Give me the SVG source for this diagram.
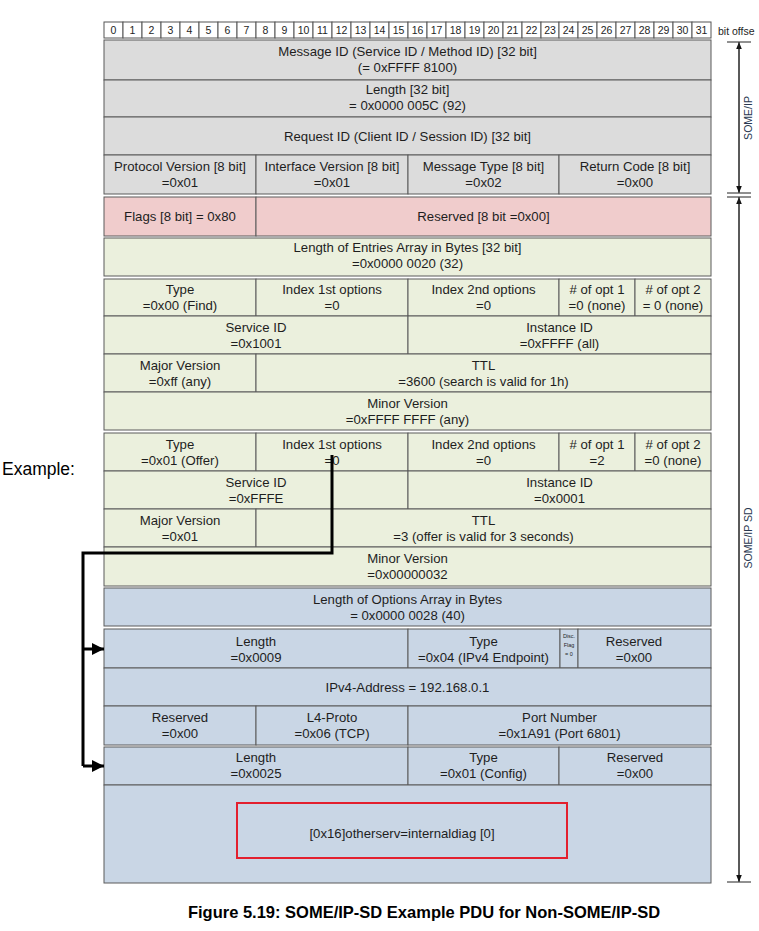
<svg xmlns="http://www.w3.org/2000/svg" width="759" height="931" viewBox="0 0 759 931">
<style>
text{font-family:"Liberation Sans",Arial,sans-serif;font-size:13.2px;fill:#1e1e1e;text-anchor:middle}
.hd rect{fill:#fff;stroke:#555;stroke-width:1}
.hd text{font-size:10.5px}
rect.c{stroke:#5a5a5a;stroke-width:1}
.g{fill:#dcdcdc}
.p{fill:#f0cccc}
.e{fill:#ebf0dd}
.b{fill:#c9d6e5}
.dim{stroke:#222;stroke-width:1;fill:none}
.con{stroke:#000;stroke-width:3;fill:none}
.sm{font-size:5.5px}
</style>
<defs>
<marker id="ah" viewBox="0 0 10 10" refX="10" refY="5" markerWidth="4" markerHeight="4" orient="auto" markerUnits="strokeWidth">
<path d="M0,0 L10,5 L0,10 z" fill="#000"/>
</marker>
<marker id="dh" viewBox="0 0 10 10" refX="10" refY="5" markerWidth="7" markerHeight="7" orient="auto" markerUnits="userSpaceOnUse">
<path d="M0,1 L10,5 L0,9 z" fill="#111"/>
</marker>
</defs>
<rect width="759" height="931" fill="#fff"/>

<g id="bit-header" class="hd">
<rect x="104" y="22" width="19" height="16"/><text x="113.5" y="34">0</text>
<rect x="123" y="22" width="19" height="16"/><text x="132.5" y="34">1</text>
<rect x="142" y="22" width="19" height="16"/><text x="151.5" y="34">2</text>
<rect x="161" y="22" width="19" height="16"/><text x="170.5" y="34">3</text>
<rect x="180" y="22" width="19" height="16"/><text x="189.5" y="34">4</text>
<rect x="199" y="22" width="19" height="16"/><text x="208.5" y="34">5</text>
<rect x="218" y="22" width="19" height="16"/><text x="227.5" y="34">6</text>
<rect x="237" y="22" width="19" height="16"/><text x="246.5" y="34">7</text>
<rect x="256" y="22" width="19" height="16"/><text x="265.5" y="34">8</text>
<rect x="275" y="22" width="19" height="16"/><text x="284.5" y="34">9</text>
<rect x="294" y="22" width="19" height="16"/><text x="303.5" y="34">10</text>
<rect x="313" y="22" width="19" height="16"/><text x="322.5" y="34">11</text>
<rect x="332" y="22" width="19" height="16"/><text x="341.5" y="34">12</text>
<rect x="351" y="22" width="19" height="16"/><text x="360.5" y="34">13</text>
<rect x="370" y="22" width="19" height="16"/><text x="379.5" y="34">14</text>
<rect x="389" y="22" width="19" height="16"/><text x="398.5" y="34">15</text>
<rect x="408" y="22" width="19" height="16"/><text x="417.5" y="34">16</text>
<rect x="427" y="22" width="19" height="16"/><text x="436.5" y="34">17</text>
<rect x="446" y="22" width="19" height="16"/><text x="455.5" y="34">18</text>
<rect x="465" y="22" width="19" height="16"/><text x="474.5" y="34">19</text>
<rect x="484" y="22" width="19" height="16"/><text x="493.5" y="34">20</text>
<rect x="503" y="22" width="19" height="16"/><text x="512.5" y="34">21</text>
<rect x="522" y="22" width="19" height="16"/><text x="531.5" y="34">22</text>
<rect x="541" y="22" width="18" height="16"/><text x="550" y="34">23</text>
<rect x="559" y="22" width="19" height="16"/><text x="568.5" y="34">24</text>
<rect x="578" y="22" width="19" height="16"/><text x="587.5" y="34">25</text>
<rect x="597" y="22" width="19" height="16"/><text x="606.5" y="34">26</text>
<rect x="616" y="22" width="19" height="16"/><text x="625.5" y="34">27</text>
<rect x="635" y="22" width="19" height="16"/><text x="644.5" y="34">28</text>
<rect x="654" y="22" width="19" height="16"/><text x="663.5" y="34">29</text>
<rect x="673" y="22" width="19" height="16"/><text x="682.5" y="34">30</text>
<rect x="692" y="22" width="19" height="16"/><text x="701.5" y="34">31</text>
</g>
<text x="718" y="35" style="font-size:10.5px;text-anchor:start">bit offse</text>

<!-- SOME/IP header -->
<g id="message-id"><rect class="c g" x="104" y="40" width="607" height="40"/><text x="407.5" y="56">Message ID (Service ID / Method ID) [32 bit]</text><text x="407.5" y="72">(= 0xFFFF 8100)</text></g>
<g id="length"><rect class="c g" x="104" y="80" width="607" height="37"/><text x="407.5" y="94">Length [32 bit]</text><text x="407.5" y="110">= 0x0000 005C (92)</text></g>
<g id="request-id"><rect class="c g" x="104" y="117" width="607" height="38"/><text x="407.5" y="141">Request ID (Client ID / Session ID) [32 bit]</text></g>
<g id="protocol-version"><rect class="c g" x="104" y="155" width="152" height="39"/><text x="180" y="171">Protocol Version [8 bit]</text><text x="180" y="187">=0x01</text></g>
<g id="interface-version"><rect class="c g" x="256" y="155" width="152" height="39"/><text x="332" y="171">Interface Version [8 bit]</text><text x="332" y="187">=0x01</text></g>
<g id="message-type"><rect class="c g" x="408" y="155" width="151" height="39"/><text x="483.5" y="171">Message Type [8 bit]</text><text x="483.5" y="187">=0x02</text></g>
<g id="return-code"><rect class="c g" x="559" y="155" width="152" height="39"/><text x="635" y="171">Return Code [8 bit]</text><text x="635" y="187">=0x00</text></g>

<!-- SD header -->
<g id="flags"><rect class="c p" x="104" y="197" width="152" height="39"/><text x="180" y="221">Flags [8 bit] = 0x80</text></g>
<g id="reserved-sd"><rect class="c p" x="256" y="197" width="455" height="39"/><text x="483.5" y="221">Reserved [8 bit =0x00]</text></g>
<g id="entries-length"><rect class="c e" x="104" y="238" width="607" height="38"/><text x="407.5" y="252">Length of Entries Array in Bytes [32 bit]</text><text x="407.5" y="268">=0x0000 0020 (32)</text></g>

<!-- Entry 1 -->
<g id="e1-type"><rect class="c e" x="104" y="279" width="152" height="37"/><text x="180" y="294">Type</text><text x="180" y="310">=0x00 (Find)</text></g>
<g id="e1-index1"><rect class="c e" x="256" y="279" width="152" height="37"/><text x="332" y="294">Index 1st options</text><text x="332" y="310">=0</text></g>
<g id="e1-index2"><rect class="c e" x="408" y="279" width="151" height="37"/><text x="483.5" y="294">Index 2nd options</text><text x="483.5" y="310">=0</text></g>
<g id="e1-opt1"><rect class="c e" x="559" y="279" width="76" height="37"/><text x="597" y="294"># of opt 1</text><text x="597" y="310">=0 (none)</text></g>
<g id="e1-opt2"><rect class="c e" x="635" y="279" width="76" height="37"/><text x="673" y="294"># of opt 2</text><text x="673" y="310">= 0 (none)</text></g>
<g id="e1-service"><rect class="c e" x="104" y="316" width="304" height="38"/><text x="256" y="332">Service ID</text><text x="256" y="348">=0x1001</text></g>
<g id="e1-instance"><rect class="c e" x="408" y="316" width="303" height="38"/><text x="559.5" y="332">Instance ID</text><text x="559.5" y="348">=0xFFFF (all)</text></g>
<g id="e1-major"><rect class="c e" x="104" y="354" width="152" height="38"/><text x="180" y="370">Major Version</text><text x="180" y="386">=0xff (any)</text></g>
<g id="e1-ttl"><rect class="c e" x="256" y="354" width="455" height="38"/><text x="483.5" y="370">TTL</text><text x="483.5" y="386">=3600 (search is valid for 1h)</text></g>
<g id="e1-minor"><rect class="c e" x="104" y="392" width="607" height="38"/><text x="407.5" y="408">Minor Version</text><text x="407.5" y="424">=0xFFFF FFFF (any)</text></g>

<!-- Entry 2 -->
<g id="e2-type"><rect class="c e" x="104" y="433" width="152" height="38"/><text x="180" y="449">Type</text><text x="180" y="465">=0x01 (Offer)</text></g>
<g id="e2-index1"><rect class="c e" x="256" y="433" width="152" height="38"/><text x="332" y="449">Index 1st options</text><text x="332" y="465">=0</text></g>
<g id="e2-index2"><rect class="c e" x="408" y="433" width="151" height="38"/><text x="483.5" y="449">Index 2nd options</text><text x="483.5" y="465">=0</text></g>
<g id="e2-opt1"><rect class="c e" x="559" y="433" width="76" height="38"/><text x="597" y="449"># of opt 1</text><text x="597" y="465">=2</text></g>
<g id="e2-opt2"><rect class="c e" x="635" y="433" width="76" height="38"/><text x="673" y="449"># of opt 2</text><text x="673" y="465">=0 (none)</text></g>
<g id="e2-service"><rect class="c e" x="104" y="471" width="304" height="38"/><text x="256" y="487">Service ID</text><text x="256" y="503">=0xFFFE</text></g>
<g id="e2-instance"><rect class="c e" x="408" y="471" width="303" height="38"/><text x="559.5" y="487">Instance ID</text><text x="559.5" y="503">=0x0001</text></g>
<g id="e2-major"><rect class="c e" x="104" y="509" width="152" height="38"/><text x="180" y="525">Major Version</text><text x="180" y="541">=0x01</text></g>
<g id="e2-ttl"><rect class="c e" x="256" y="509" width="455" height="38"/><text x="483.5" y="525">TTL</text><text x="483.5" y="541">=3 (offer is valid for 3 seconds)</text></g>
<g id="e2-minor"><rect class="c e" x="104" y="547" width="607" height="39"/><text x="407.5" y="563">Minor Version</text><text x="407.5" y="579">=0x00000032</text></g>

<!-- Options -->
<g id="options-length"><rect class="c b" x="104" y="588" width="607" height="38"/><text x="407.5" y="604">Length of Options Array in Bytes</text><text x="407.5" y="620">= 0x0000 0028 (40)</text></g>
<g id="o1-length"><rect class="c b" x="104" y="629" width="304" height="39"/><text x="256" y="646">Length</text><text x="256" y="662">=0x0009</text></g>
<g id="o1-type"><rect class="c b" x="408" y="629" width="152" height="39"/><text x="483.5" y="646">Type</text><text x="483.5" y="662">=0x04 (IPv4 Endpoint)</text></g>
<g id="o1-disc"><rect class="c b" x="560" y="629" width="18" height="39"/><text class="sm" x="569" y="638">Disc.</text><text class="sm" x="569" y="647">Flag</text><text class="sm" x="569" y="656">= 0</text></g>
<g id="o1-reserved"><rect class="c b" x="578" y="629" width="133" height="39"/><text x="634" y="646">Reserved</text><text x="634" y="662">=0x00</text></g>
<g id="o1-ipv4"><rect class="c b" x="104" y="668" width="607" height="38"/><text x="407.5" y="692">IPv4-Address = 192.168.0.1</text></g>
<g id="o1-reserved2"><rect class="c b" x="104" y="706" width="152" height="39"/><text x="180" y="722">Reserved</text><text x="180" y="738">=0x00</text></g>
<g id="o1-l4proto"><rect class="c b" x="256" y="706" width="152" height="39"/><text x="332" y="722">L4-Proto</text><text x="332" y="738">=0x06 (TCP)</text></g>
<g id="o1-port"><rect class="c b" x="408" y="706" width="303" height="39"/><text x="559.5" y="722">Port Number</text><text x="559.5" y="738">=0x1A91 (Port 6801)</text></g>
<g id="o2-length"><rect class="c b" x="104" y="747" width="304" height="38"/><text x="256" y="762">Length</text><text x="256" y="778">=0x0025</text></g>
<g id="o2-type"><rect class="c b" x="408" y="747" width="151" height="38"/><text x="483.5" y="762">Type</text><text x="483.5" y="778">=0x01 (Config)</text></g>
<g id="o2-reserved"><rect class="c b" x="559" y="747" width="152" height="38"/><text x="635" y="762">Reserved</text><text x="635" y="778">=0x00</text></g>
<g id="o2-config"><rect class="c b" x="104" y="785" width="607" height="98"/>
<rect x="237" y="803" width="330" height="55" fill="none" stroke="#e3202e" stroke-width="2"/>
<text x="402" y="838">[0x16]otherserv=internaldiag [0]</text></g>

<!-- dimension lines -->
<g id="dimensions">
<line class="dim" x1="727" y1="42" x2="751" y2="42"/>
<line class="dim" x1="739" y1="192" x2="739" y2="42" marker-end="url(#dh)"/>
<line class="dim" x1="739" y1="44" x2="739" y2="193" marker-end="url(#dh)"/>
<line class="dim" x1="727" y1="193" x2="751" y2="193"/>
<line class="dim" x1="727" y1="197" x2="751" y2="197"/>
<line class="dim" x1="739" y1="881" x2="739" y2="197" marker-end="url(#dh)"/>
<line class="dim" x1="739" y1="199" x2="739" y2="882" marker-end="url(#dh)"/>
<line class="dim" x1="727" y1="882" x2="751" y2="882"/>
<text transform="translate(752,118) rotate(-90)" style="font-size:10.5px;fill:#2a3850">SOME/IP</text>
<text transform="translate(752,538) rotate(-90)" style="font-size:10.5px;fill:#2a3850">SOME/IP SD</text>
</g>

<g id="connectors">
<polyline class="con" points="332,455 332,553 83,553 83,766"/>
<line class="con" x1="83" y1="649" x2="104" y2="649" marker-end="url(#ah)"/>
<line class="con" x1="83" y1="766" x2="104" y2="766" marker-end="url(#ah)"/>
</g>

<text x="2" y="475" style="font-size:17.5px;text-anchor:start;fill:#000">Example:</text>
<text x="424" y="918" style="font-size:16.5px;font-weight:bold;fill:#000">Figure 5.19: SOME/IP-SD Example PDU for Non-SOME/IP-SD</text>
</svg>
